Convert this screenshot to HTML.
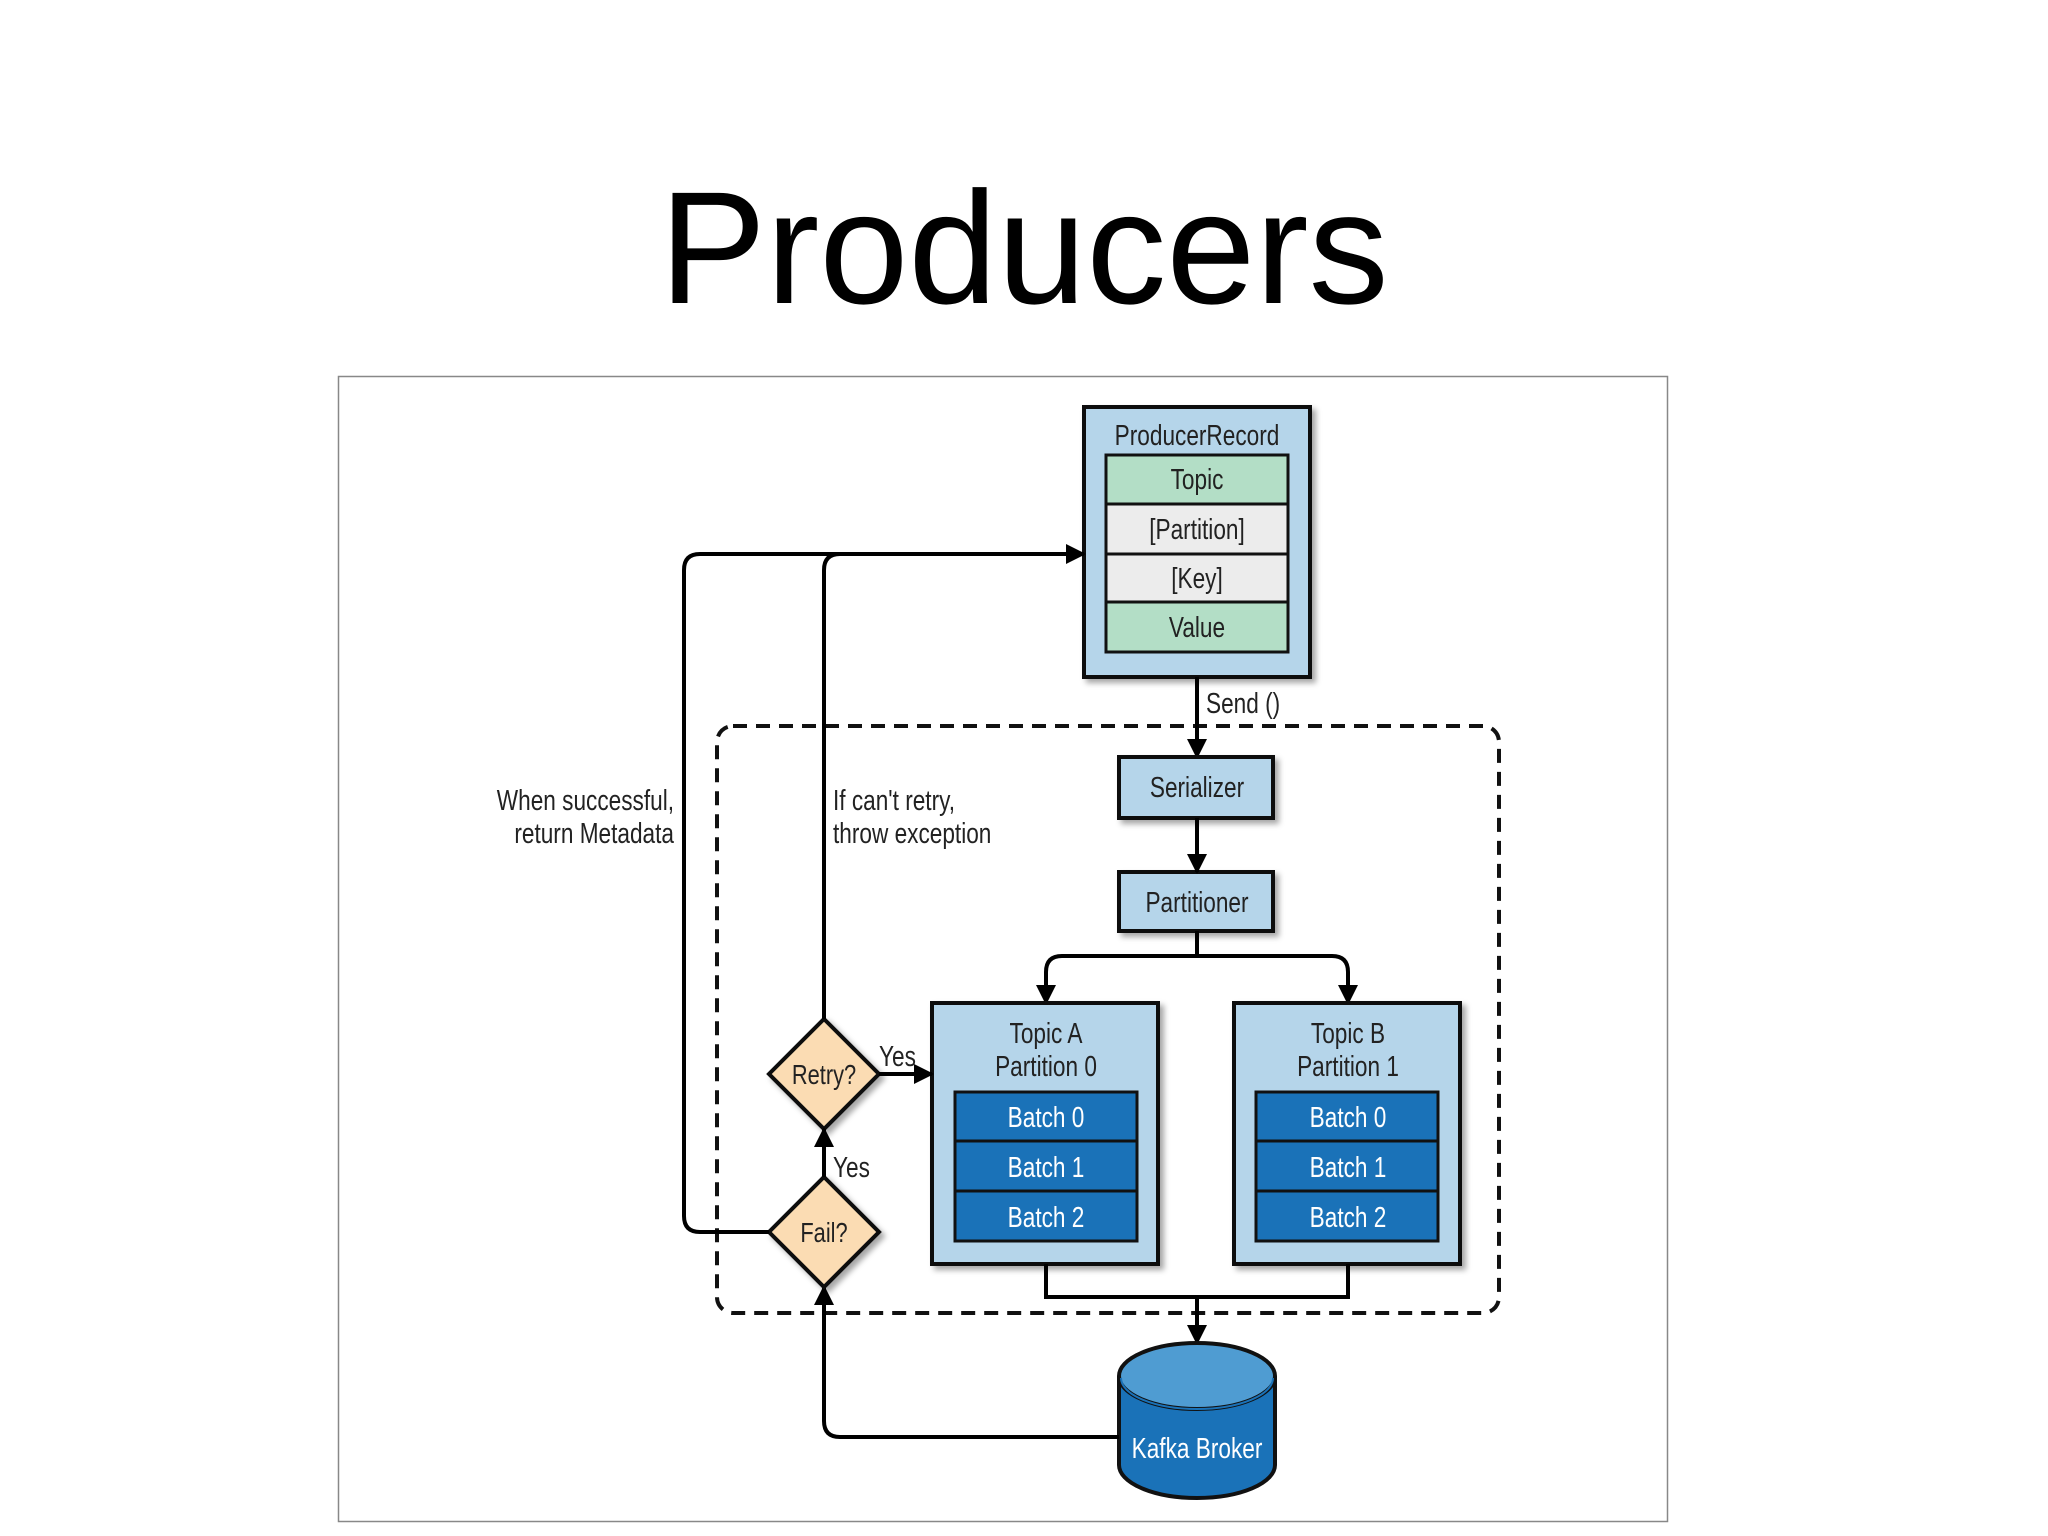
<!DOCTYPE html>
<html><head><meta charset="utf-8"><style>
html,body{margin:0;padding:0;background:#fff;}
svg{display:block;}
text{font-family:"Liberation Sans",sans-serif;}
</style></head><body>
<svg width="2048" height="1536" viewBox="0 0 2048 1536" xmlns="http://www.w3.org/2000/svg">
<defs>
<marker id="a2" viewBox="0 0 10 10" markerWidth="20" markerHeight="20" refX="9" refY="5" orient="auto" markerUnits="userSpaceOnUse"><path d="M0,0 L10,5 L0,10 z" fill="#000"/></marker>
<filter id="sh" x="-10%" y="-10%" width="130%" height="130%"><feDropShadow dx="4" dy="4" stdDeviation="3" flood-color="#000" flood-opacity="0.35"/></filter>
</defs>
<text x="1024" y="303" font-size="160" text-anchor="middle" fill="#000">Producers</text>
<rect x="338.5" y="376.5" width="1329" height="1145" fill="none" stroke="#888" stroke-width="1.5"/>

<rect x="717" y="726" width="782" height="587" rx="16" fill="none" stroke="#111" stroke-width="4" stroke-dasharray="14,9"/>

<g filter="url(#sh)"><rect x="1084" y="407" width="226" height="270" fill="#b5d5ea" stroke="#111" stroke-width="4"/></g>
<rect x="1106" y="455" width="182" height="49" fill="#b3dec6" stroke="#111" stroke-width="3"/>
<rect x="1106" y="504" width="182" height="50" fill="#ececec" stroke="#111" stroke-width="3"/>
<rect x="1106" y="554" width="182" height="48" fill="#ececec" stroke="#111" stroke-width="3"/>
<rect x="1106" y="602" width="182" height="50" fill="#b3dec6" stroke="#111" stroke-width="3"/>
<g font-size="29" fill="#222" text-anchor="middle">
<text transform="translate(1197,445) scale(0.78,1)">ProducerRecord</text>
<text transform="translate(1197,489) scale(0.78,1)">Topic</text>
<text transform="translate(1197,539) scale(0.78,1)">[Partition]</text>
<text transform="translate(1197,588) scale(0.78,1)">[Key]</text>
<text transform="translate(1197,637) scale(0.78,1)">Value</text>
</g>

<line x1="1197" y1="677" x2="1197" y2="757" stroke="#000" stroke-width="4" marker-end="url(#a2)"/>
<text transform="translate(1206,713) scale(0.78,1)" font-size="29" fill="#222">Send ()</text>

<g filter="url(#sh)">
<rect x="1119" y="757" width="154" height="61" fill="#b5d5ea" stroke="#111" stroke-width="4"/>
<rect x="1119" y="872" width="154" height="59" fill="#b5d5ea" stroke="#111" stroke-width="4"/>
</g>
<g font-size="29" fill="#222" text-anchor="middle">
<text transform="translate(1197,797) scale(0.78,1)">Serializer</text>
<text transform="translate(1197,912) scale(0.78,1)">Partitioner</text>
</g>
<line x1="1197" y1="818" x2="1197" y2="872" stroke="#000" stroke-width="4" marker-end="url(#a2)"/>
<path d="M1197,931 V956 M1046,1003 V972 Q1046,956 1062,956 H1332 Q1348,956 1348,972 V1003" fill="none" stroke="#000" stroke-width="4"/>
<path d="M1046,985 V1003" stroke="#000" stroke-width="4" marker-end="url(#a2)"/>
<path d="M1348,985 V1003" stroke="#000" stroke-width="4" marker-end="url(#a2)"/>

<g filter="url(#sh)">
<rect x="932" y="1003" width="226" height="261" fill="#b5d5ea" stroke="#111" stroke-width="4"/>
<rect x="1234" y="1003" width="226" height="261" fill="#b5d5ea" stroke="#111" stroke-width="4"/>
</g>
<g fill="#1a72b8" stroke="#111" stroke-width="3">
<rect x="955" y="1092" width="182" height="49"/><rect x="955" y="1141" width="182" height="50"/><rect x="955" y="1191" width="182" height="50"/>
<rect x="1256" y="1092" width="182" height="49"/><rect x="1256" y="1141" width="182" height="50"/><rect x="1256" y="1191" width="182" height="50"/>
</g>
<g font-size="29" fill="#222" text-anchor="middle">
<text transform="translate(1046,1043) scale(0.78,1)">Topic A</text>
<text transform="translate(1046,1076) scale(0.78,1)">Partition 0</text>
<text transform="translate(1348,1043) scale(0.78,1)">Topic B</text>
<text transform="translate(1348,1076) scale(0.78,1)">Partition 1</text>
</g>
<g font-size="29" fill="#fff" text-anchor="middle">
<text transform="translate(1046,1127) scale(0.78,1)">Batch 0</text>
<text transform="translate(1046,1177) scale(0.78,1)">Batch 1</text>
<text transform="translate(1046,1227) scale(0.78,1)">Batch 2</text>
<text transform="translate(1348,1127) scale(0.78,1)">Batch 0</text>
<text transform="translate(1348,1177) scale(0.78,1)">Batch 1</text>
<text transform="translate(1348,1227) scale(0.78,1)">Batch 2</text>
</g>
<path d="M1046,1264 V1297 H1348 V1264" fill="none" stroke="#000" stroke-width="4"/>
<line x1="1197" y1="1297" x2="1197" y2="1343" stroke="#000" stroke-width="4" marker-end="url(#a2)"/>

<path d="M1119,1376 V1465 A78,33 0 0 0 1275,1465 V1376" fill="#1a72b8" stroke="#111" stroke-width="4"/>
<ellipse cx="1197" cy="1376" rx="78" ry="33" fill="#4f9cd2" stroke="#111" stroke-width="4"/>
<path d="M1121,1378 A76,31 0 0 0 1273,1378" fill="none" stroke="#1a72b8" stroke-width="2"/>
<text transform="translate(1197,1458) scale(0.78,1)" font-size="29" fill="#fff" text-anchor="middle">Kafka Broker</text>

<path d="M1119,1437 H840 Q824,1437 824,1421 V1287" fill="none" stroke="#000" stroke-width="4" marker-end="url(#a2)"/>

<g filter="url(#sh)">
<polygon points="824,1019 879,1074 824,1129 769,1074" fill="#fbdcb3" stroke="#111" stroke-width="4"/>
<polygon points="824,1177 879,1232 824,1287 769,1232" fill="#fbdcb3" stroke="#111" stroke-width="4"/>
</g>
<g font-size="28" fill="#222" text-anchor="middle">
<text transform="translate(824,1084) scale(0.78,1)">Retry?</text>
<text transform="translate(824,1242) scale(0.78,1)">Fail?</text>
</g>
<line x1="824" y1="1177" x2="824" y2="1129" stroke="#000" stroke-width="4" marker-end="url(#a2)"/>
<text transform="translate(833,1177) scale(0.78,1)" font-size="29" fill="#222">Yes</text>
<line x1="879" y1="1074" x2="932" y2="1074" stroke="#000" stroke-width="4" marker-end="url(#a2)"/>
<text transform="translate(879,1066) scale(0.78,1)" font-size="29" fill="#222">Yes</text>

<path d="M824,1019 V570 Q824,554 840,554 H1084" fill="none" stroke="#000" stroke-width="4" marker-end="url(#a2)"/>
<path d="M769,1232 H700 Q684,1232 684,1216 V570 Q684,554 700,554 H840" fill="none" stroke="#000" stroke-width="4"/>

<g font-size="29" fill="#222">
<text transform="translate(674,810) scale(0.78,1)" text-anchor="end">When successful,</text>
<text transform="translate(674,843) scale(0.78,1)" text-anchor="end">return Metadata</text>
<text transform="translate(833,810) scale(0.78,1)">If can't retry,</text>
<text transform="translate(833,843) scale(0.78,1)">throw exception</text>
</g>
</svg>
</body></html>
